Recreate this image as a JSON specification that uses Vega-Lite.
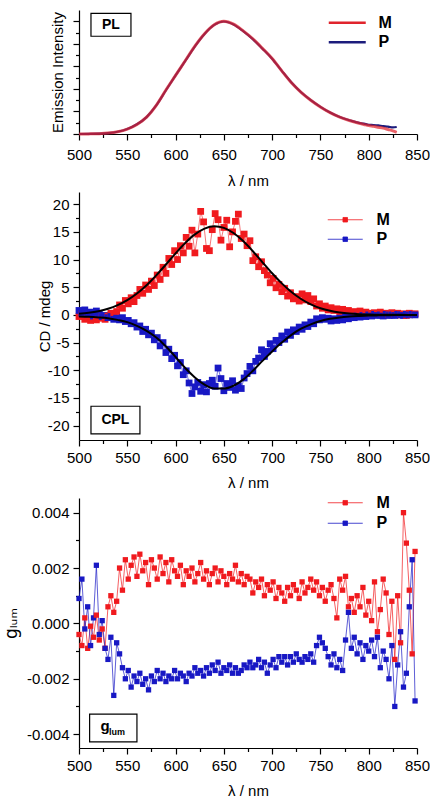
{
  "$schema": "https://vega.github.io/schema/vega-lite/v6.json",
  "padding": {"left": 2, "top": 10, "right": 0, "bottom": 0},
  "bounds": "flush",
  "spacing": 58,
  "datasets": {
    "pl": [
      {"nm": 500, "M": 0.000, "P": 0.000},
      {"nm": 510, "M": 0.001, "P": 0.001},
      {"nm": 520, "M": 0.003, "P": 0.003},
      {"nm": 530, "M": 0.008, "P": 0.008},
      {"nm": 540, "M": 0.020, "P": 0.020},
      {"nm": 550, "M": 0.044, "P": 0.044},
      {"nm": 560, "M": 0.085, "P": 0.086},
      {"nm": 570, "M": 0.150, "P": 0.150},
      {"nm": 580, "M": 0.255, "P": 0.253},
      {"nm": 590, "M": 0.390, "P": 0.388},
      {"nm": 600, "M": 0.520, "P": 0.520},
      {"nm": 610, "M": 0.650, "P": 0.648},
      {"nm": 620, "M": 0.780, "P": 0.778},
      {"nm": 630, "M": 0.890, "P": 0.888},
      {"nm": 640, "M": 0.970, "P": 0.968},
      {"nm": 650, "M": 1.000, "P": 0.998},
      {"nm": 660, "M": 0.975, "P": 0.972},
      {"nm": 670, "M": 0.915, "P": 0.913},
      {"nm": 680, "M": 0.845, "P": 0.842},
      {"nm": 690, "M": 0.760, "P": 0.757},
      {"nm": 700, "M": 0.670, "P": 0.668},
      {"nm": 710, "M": 0.560, "P": 0.560},
      {"nm": 720, "M": 0.455, "P": 0.457},
      {"nm": 730, "M": 0.370, "P": 0.370},
      {"nm": 740, "M": 0.300, "P": 0.300},
      {"nm": 750, "M": 0.240, "P": 0.241},
      {"nm": 760, "M": 0.190, "P": 0.190},
      {"nm": 770, "M": 0.150, "P": 0.150},
      {"nm": 780, "M": 0.120, "P": 0.122},
      {"nm": 790, "M": 0.095, "P": 0.098},
      {"nm": 795, "M": 0.085, "P": 0.092},
      {"nm": 800, "M": 0.075, "P": 0.082},
      {"nm": 805, "M": 0.068, "P": 0.080},
      {"nm": 810, "M": 0.060, "P": 0.076},
      {"nm": 815, "M": 0.052, "P": 0.070},
      {"nm": 820, "M": 0.040, "P": 0.066},
      {"nm": 825, "M": 0.028, "P": 0.058},
      {"nm": 829, "M": 0.015, "P": 0.062}
    ],
    "cd": [
      {"nm": 500, "M": -0.3, "P": 0.8}, {"nm": 503, "M": 0.2, "P": 0.3}, {"nm": 506, "M": -0.8, "P": 0.9},
      {"nm": 509, "M": -0.5, "P": 0.2}, {"nm": 512, "M": -1.0, "P": 0.5}, {"nm": 515, "M": -0.4, "P": -0.2},
      {"nm": 518, "M": -0.9, "P": 0.7}, {"nm": 521, "M": -0.6, "P": 0.1}, {"nm": 524, "M": -0.3, "P": -0.3},
      {"nm": 527, "M": -0.8, "P": -0.1}, {"nm": 530, "M": -0.2, "P": -0.5}, {"nm": 533, "M": 0.3, "P": -0.3},
      {"nm": 536, "M": -0.1, "P": -0.8}, {"nm": 539, "M": 0.6, "P": -0.6}, {"nm": 542, "M": 1.8, "P": -0.9},
      {"nm": 545, "M": 1.2, "P": -0.5}, {"nm": 548, "M": 2.6, "P": -1.2}, {"nm": 551, "M": 2.0, "P": -1.0},
      {"nm": 554, "M": 3.1, "P": -1.6}, {"nm": 557, "M": 2.4, "P": -1.4}, {"nm": 560, "M": 3.5, "P": -2.2},
      {"nm": 563, "M": 4.6, "P": -2.0}, {"nm": 566, "M": 3.9, "P": -3.0}, {"nm": 569, "M": 5.4, "P": -2.6},
      {"nm": 572, "M": 4.6, "P": -3.6}, {"nm": 575, "M": 6.1, "P": -3.3}, {"nm": 578, "M": 5.3, "P": -4.5},
      {"nm": 581, "M": 7.2, "P": -4.1}, {"nm": 584, "M": 6.4, "P": -5.6}, {"nm": 587, "M": 8.6, "P": -5.0},
      {"nm": 590, "M": 7.5, "P": -6.8}, {"nm": 593, "M": 10.2, "P": -6.2}, {"nm": 596, "M": 9.1, "P": -7.9},
      {"nm": 599, "M": 11.6, "P": -7.3}, {"nm": 602, "M": 10.0, "P": -9.2}, {"nm": 605, "M": 12.5, "P": -8.6},
      {"nm": 608, "M": 11.2, "P": -10.8}, {"nm": 611, "M": 14.0, "P": -10.1}, {"nm": 614, "M": 12.4, "P": -12.3},
      {"nm": 617, "M": 15.3, "P": -14.2}, {"nm": 620, "M": 11.2, "P": -13.0}, {"nm": 623, "M": 14.6, "P": -12.2},
      {"nm": 626, "M": 18.7, "P": -13.8}, {"nm": 629, "M": 16.8, "P": -12.6}, {"nm": 632, "M": 12.0, "P": -13.9},
      {"nm": 635, "M": 11.6, "P": -12.4}, {"nm": 638, "M": 15.4, "P": -11.8}, {"nm": 641, "M": 18.3, "P": -12.9},
      {"nm": 644, "M": 17.2, "P": -9.6}, {"nm": 647, "M": 13.5, "P": -11.5}, {"nm": 650, "M": 15.8, "P": -13.7},
      {"nm": 653, "M": 17.1, "P": -12.4}, {"nm": 656, "M": 12.3, "P": -13.1}, {"nm": 659, "M": 15.0, "P": -11.9},
      {"nm": 662, "M": 16.9, "P": -13.6}, {"nm": 665, "M": 18.2, "P": -12.8}, {"nm": 668, "M": 13.8, "P": -13.3},
      {"nm": 671, "M": 14.6, "P": -11.4}, {"nm": 674, "M": 12.5, "P": -10.6}, {"nm": 677, "M": 13.4, "P": -9.3},
      {"nm": 680, "M": 9.8, "P": -10.1}, {"nm": 683, "M": 10.5, "P": -8.4}, {"nm": 686, "M": 8.7, "P": -7.8},
      {"nm": 689, "M": 9.6, "P": -6.3}, {"nm": 692, "M": 8.0, "P": -7.5}, {"nm": 695, "M": 7.2, "P": -6.6},
      {"nm": 698, "M": 5.8, "P": -5.2}, {"nm": 701, "M": 6.6, "P": -6.1}, {"nm": 704, "M": 4.9, "P": -4.6},
      {"nm": 707, "M": 5.5, "P": -5.0}, {"nm": 710, "M": 4.2, "P": -3.8}, {"nm": 713, "M": 4.8, "P": -4.4},
      {"nm": 716, "M": 3.4, "P": -3.1}, {"nm": 719, "M": 4.0, "P": -3.7}, {"nm": 722, "M": 2.9, "P": -2.7},
      {"nm": 725, "M": 3.3, "P": -3.0}, {"nm": 728, "M": 2.5, "P": -2.2}, {"nm": 731, "M": 3.8, "P": -2.6},
      {"nm": 734, "M": 2.7, "P": -1.8}, {"nm": 737, "M": 3.5, "P": -2.1}, {"nm": 740, "M": 2.4, "P": -1.3},
      {"nm": 743, "M": 2.9, "P": -1.6}, {"nm": 746, "M": 1.6, "P": -0.7}, {"nm": 749, "M": 2.0, "P": -0.9},
      {"nm": 752, "M": 1.2, "P": -0.5}, {"nm": 755, "M": 1.6, "P": -0.8}, {"nm": 758, "M": 0.9, "P": -0.6},
      {"nm": 761, "M": 1.3, "P": -1.1}, {"nm": 764, "M": 0.8, "P": -0.7}, {"nm": 767, "M": 1.1, "P": -1.0},
      {"nm": 770, "M": 0.6, "P": -0.6}, {"nm": 773, "M": 1.0, "P": -0.9}, {"nm": 776, "M": 0.5, "P": -0.4},
      {"nm": 779, "M": 0.8, "P": -0.7}, {"nm": 782, "M": 0.3, "P": -0.3}, {"nm": 785, "M": 0.6, "P": -0.5},
      {"nm": 788, "M": 0.4, "P": -0.2}, {"nm": 791, "M": 0.7, "P": -0.4}, {"nm": 794, "M": 0.2, "P": -0.1},
      {"nm": 797, "M": 0.5, "P": -0.3}, {"nm": 800, "M": 0.3, "P": 0.0}, {"nm": 803, "M": 0.1, "P": -0.2},
      {"nm": 806, "M": 0.4, "P": 0.1}, {"nm": 809, "M": 0.2, "P": -0.1}, {"nm": 812, "M": 0.5, "P": 0.0},
      {"nm": 815, "M": 0.1, "P": -0.2}, {"nm": 818, "M": 0.3, "P": 0.1}, {"nm": 821, "M": 0.0, "P": -0.1},
      {"nm": 824, "M": 0.4, "P": 0.0}, {"nm": 827, "M": 0.1, "P": -0.1}, {"nm": 830, "M": 0.3, "P": 0.1},
      {"nm": 833, "M": 0.0, "P": 0.0}, {"nm": 836, "M": 0.2, "P": -0.1}, {"nm": 839, "M": -0.1, "P": 0.1},
      {"nm": 842, "M": 0.3, "P": 0.0}, {"nm": 845, "M": 0.1, "P": 0.1}, {"nm": 848, "M": 0.2, "P": 0.0}
    ],
    "cdfit": [
      {"nm": 500, "M": 0.21, "P": -0.30}, {"nm": 510, "M": 0.39, "P": -0.35}, {"nm": 520, "M": 0.67, "P": -0.45},
      {"nm": 530, "M": 1.10, "P": -0.60}, {"nm": 540, "M": 1.75, "P": -0.90}, {"nm": 550, "M": 2.65, "P": -1.30},
      {"nm": 560, "M": 3.85, "P": -2.00}, {"nm": 570, "M": 5.36, "P": -2.90}, {"nm": 580, "M": 7.14, "P": -4.10},
      {"nm": 590, "M": 9.10, "P": -5.70}, {"nm": 600, "M": 11.11, "P": -7.60}, {"nm": 610, "M": 12.99, "P": -9.60},
      {"nm": 620, "M": 14.54, "P": -11.30}, {"nm": 630, "M": 15.58, "P": -12.60}, {"nm": 640, "M": 16.00, "P": -13.30},
      {"nm": 650, "M": 15.72, "P": -13.30}, {"nm": 660, "M": 14.79, "P": -12.80}, {"nm": 670, "M": 13.33, "P": -11.70},
      {"nm": 680, "M": 11.50, "P": -10.10}, {"nm": 690, "M": 9.50, "P": -8.30}, {"nm": 700, "M": 7.52, "P": -6.60},
      {"nm": 710, "M": 5.69, "P": -5.00}, {"nm": 720, "M": 4.13, "P": -3.60}, {"nm": 730, "M": 2.87, "P": -2.50},
      {"nm": 740, "M": 1.91, "P": -1.70}, {"nm": 750, "M": 1.21, "P": -1.10}, {"nm": 760, "M": 0.74, "P": -0.70},
      {"nm": 770, "M": 0.43, "P": -0.45}, {"nm": 780, "M": 0.24, "P": -0.30}, {"nm": 790, "M": 0.13, "P": -0.20},
      {"nm": 800, "M": 0.07, "P": -0.12}, {"nm": 810, "M": 0.03, "P": -0.08}, {"nm": 820, "M": 0.02, "P": -0.05},
      {"nm": 830, "M": 0.01, "P": -0.03}, {"nm": 840, "M": 0.00, "P": -0.02}, {"nm": 850, "M": 0.00, "P": 0.00}
    ],
    "glum": [
      {"nm": 500, "M": -0.0004, "P": 0.0009}, {"nm": 503, "M": -0.0008, "P": 0.0016}, {"nm": 506, "M": 0.0002, "P": -0.0002},
      {"nm": 509, "M": -0.0009, "P": 0.0006}, {"nm": 512, "M": -0.0001, "P": -0.0008}, {"nm": 515, "M": -0.0005, "P": 0.0002},
      {"nm": 518, "M": 0.0003, "P": 0.0021}, {"nm": 521, "M": -0.0006, "P": -0.0004}, {"nm": 524, "M": -0.0002, "P": 0.0001},
      {"nm": 527, "M": -0.0009, "P": -0.0009}, {"nm": 530, "M": 0.0006, "P": -0.0013}, {"nm": 533, "M": 0.0010, "P": -0.0005},
      {"nm": 536, "M": 0.0004, "P": -0.0026}, {"nm": 539, "M": 0.0008, "P": -0.0007}, {"nm": 542, "M": 0.0020, "P": -0.0011},
      {"nm": 545, "M": 0.0012, "P": -0.0016}, {"nm": 548, "M": 0.0023, "P": -0.0020}, {"nm": 551, "M": 0.0016, "P": -0.0017},
      {"nm": 554, "M": 0.0021, "P": -0.0023}, {"nm": 557, "M": 0.0024, "P": -0.0019}, {"nm": 560, "M": 0.0017, "P": -0.0021},
      {"nm": 563, "M": 0.0025, "P": -0.0018}, {"nm": 566, "M": 0.0019, "P": -0.0022}, {"nm": 569, "M": 0.0022, "P": -0.0020},
      {"nm": 572, "M": 0.0014, "P": -0.0024}, {"nm": 575, "M": 0.0023, "P": -0.0019}, {"nm": 578, "M": 0.0020, "P": -0.0021},
      {"nm": 581, "M": 0.0016, "P": -0.0017}, {"nm": 584, "M": 0.0024, "P": -0.0020}, {"nm": 587, "M": 0.0018, "P": -0.0018},
      {"nm": 590, "M": 0.0022, "P": -0.0021}, {"nm": 593, "M": 0.0015, "P": -0.0019}, {"nm": 596, "M": 0.0023, "P": -0.0020},
      {"nm": 599, "M": 0.0019, "P": -0.0017}, {"nm": 602, "M": 0.0017, "P": -0.0020}, {"nm": 605, "M": 0.0021, "P": -0.0018},
      {"nm": 608, "M": 0.0014, "P": -0.0019}, {"nm": 611, "M": 0.0019, "P": -0.0021}, {"nm": 614, "M": 0.0017, "P": -0.0018},
      {"nm": 617, "M": 0.0020, "P": -0.0019}, {"nm": 620, "M": 0.0015, "P": -0.0016}, {"nm": 623, "M": 0.0018, "P": -0.0018},
      {"nm": 626, "M": 0.0022, "P": -0.0017}, {"nm": 629, "M": 0.0016, "P": -0.0019}, {"nm": 632, "M": 0.0019, "P": -0.0016},
      {"nm": 635, "M": 0.0014, "P": -0.0018}, {"nm": 638, "M": 0.0018, "P": -0.0015}, {"nm": 641, "M": 0.0020, "P": -0.0017},
      {"nm": 644, "M": 0.0015, "P": -0.0014}, {"nm": 647, "M": 0.0019, "P": -0.0018}, {"nm": 650, "M": 0.0017, "P": -0.0016},
      {"nm": 653, "M": 0.0014, "P": -0.0017}, {"nm": 656, "M": 0.0018, "P": -0.0015}, {"nm": 659, "M": 0.0016, "P": -0.0018},
      {"nm": 662, "M": 0.0021, "P": -0.0016}, {"nm": 665, "M": 0.0015, "P": -0.0018}, {"nm": 668, "M": 0.0018, "P": -0.0017},
      {"nm": 671, "M": 0.0014, "P": -0.0015}, {"nm": 674, "M": 0.0017, "P": -0.0016}, {"nm": 677, "M": 0.0016, "P": -0.0014},
      {"nm": 680, "M": 0.0011, "P": -0.0016}, {"nm": 683, "M": 0.0015, "P": -0.0015}, {"nm": 686, "M": 0.0013, "P": -0.0013},
      {"nm": 689, "M": 0.0016, "P": -0.0016}, {"nm": 692, "M": 0.0010, "P": -0.0014}, {"nm": 695, "M": 0.0014, "P": -0.0018},
      {"nm": 698, "M": 0.0012, "P": -0.0015}, {"nm": 701, "M": 0.0015, "P": -0.0013}, {"nm": 704, "M": 0.0009, "P": -0.0016},
      {"nm": 707, "M": 0.0013, "P": -0.0012}, {"nm": 710, "M": 0.0011, "P": -0.0014}, {"nm": 713, "M": 0.0008, "P": -0.0012},
      {"nm": 716, "M": 0.0013, "P": -0.0015}, {"nm": 719, "M": 0.0010, "P": -0.0012}, {"nm": 722, "M": 0.0014, "P": -0.0014},
      {"nm": 725, "M": 0.0012, "P": -0.0011}, {"nm": 728, "M": 0.0009, "P": -0.0013}, {"nm": 731, "M": 0.0015, "P": -0.0014},
      {"nm": 734, "M": 0.0011, "P": -0.0012}, {"nm": 737, "M": 0.0013, "P": -0.0013}, {"nm": 740, "M": 0.0016, "P": -0.0011},
      {"nm": 743, "M": 0.0012, "P": -0.0014}, {"nm": 746, "M": 0.0015, "P": -0.0008}, {"nm": 749, "M": 0.0010, "P": -0.0005},
      {"nm": 752, "M": 0.0013, "P": -0.0007}, {"nm": 755, "M": 0.0008, "P": -0.0009}, {"nm": 758, "M": 0.0012, "P": -0.0012},
      {"nm": 761, "M": 0.0014, "P": -0.0015}, {"nm": 764, "M": 0.0009, "P": -0.0011}, {"nm": 767, "M": 0.0002, "P": -0.0016},
      {"nm": 770, "M": 0.0016, "P": -0.0013}, {"nm": 773, "M": 0.0012, "P": -0.0017}, {"nm": 776, "M": 0.0017, "P": -0.0006},
      {"nm": 779, "M": 0.0006, "P": 0.0004}, {"nm": 782, "M": 0.0009, "P": -0.0009}, {"nm": 785, "M": 0.0004, "P": -0.0005},
      {"nm": 788, "M": 0.0010, "P": -0.0011}, {"nm": 791, "M": 0.0006, "P": -0.0007}, {"nm": 794, "M": 0.0013, "P": -0.0013},
      {"nm": 797, "M": 0.0003, "P": -0.0008}, {"nm": 800, "M": 0.0008, "P": -0.0010}, {"nm": 803, "M": 0.0001, "P": -0.0006},
      {"nm": 806, "M": 0.0015, "P": -0.0012}, {"nm": 809, "M": -0.0003, "P": -0.0005}, {"nm": 812, "M": 0.0005, "P": -0.0016},
      {"nm": 815, "M": 0.0016, "P": -0.0010}, {"nm": 818, "M": 0.0011, "P": -0.0013}, {"nm": 821, "M": -0.0004, "P": -0.0020},
      {"nm": 824, "M": 0.0008, "P": -0.0008}, {"nm": 827, "M": -0.0013, "P": -0.0030}, {"nm": 830, "M": 0.0010, "P": -0.0015},
      {"nm": 833, "M": -0.0007, "P": -0.0003}, {"nm": 836, "M": 0.0040, "P": -0.0023}, {"nm": 839, "M": 0.0029, "P": -0.0018},
      {"nm": 842, "M": 0.0012, "P": 0.0006}, {"nm": 845, "M": -0.0011, "P": 0.0023}, {"nm": 848, "M": 0.0026, "P": -0.0028}
    ]
  },
  "vconcat": [
    {
      "width": 338,
      "height": 124,
      "layer": [
        {
          "data": {"name": "pl"},
          "transform": [{"fold": ["M", "P"], "as": ["s", "v"]}, {"filter": "datum.s === 'P'"}],
          "mark": {"type": "line", "strokeWidth": 2.2, "interpolate": "monotone"},
          "encoding": {
            "x": {"field": "nm", "type": "quantitative", "scale": {"domain": [500, 850], "nice": false},
              "axis": {"title": "λ / nm", "tickCount": 100, "labelPadding": 7, "titlePadding": 11,
                "values": [500, 525, 550, 575, 600, 625, 650, 675, 700, 725, 750, 775, 800, 825, 850],
                "labelExpr": "datum.value % 50 === 0 ? format(datum.value, 'd') : ''",
                "tickSize": {"condition": {"test": "datum.value % 50 === 0", "value": 6}, "value": 3.5}}},
            "y": {"field": "v", "type": "quantitative", "scale": {"domain": [0, 1.1], "nice": false, "zero": false},
              "axis": {"title": "Emission Intensity", "labels": false, "titleX": -22, "titleBaseline": "middle", "tickCount": 100,
                "values": [0, 0.1, 0.2, 0.3, 0.4, 0.5, 0.6, 0.7, 0.8, 0.9, 1.0],
                "tickSize": {"condition": {"test": "round(datum.value*10) % 2 === 0", "value": 6}, "value": 3.5}}},
            "color": {"field": "s", "type": "nominal",
              "scale": {"domain": ["M", "P"], "range": ["#e0242c", "#1c1c7c"]},
              "legend": {"title": null, "orient": "none", "legendX": 257.25, "legendY": 1.75, "padding": 0,
                "symbolType": "M-2,0H2", "symbolSize": 342, "symbolStrokeWidth": 2.6,
                "labelOffset": 20.25, "rowPadding": 0.5,
                "encode": {"symbols": {"update": {"opacity": {"value": 1}, "strokeOpacity": {"value": 1}}}}}}
          }
        },
        {
          "data": {"name": "pl"},
          "transform": [{"fold": ["M", "P"], "as": ["s", "v"]}, {"filter": "datum.s === 'M'"}],
          "mark": {"type": "line", "strokeWidth": 3, "opacity": 0.72, "interpolate": "monotone"},
          "encoding": {
            "x": {"field": "nm", "type": "quantitative"},
            "y": {"field": "v", "type": "quantitative"},
            "color": {"field": "s", "type": "nominal"}
          }
        },
        {
          "data": {"values": [{}]},
          "mark": {"type": "rect", "fill": "white", "stroke": "black", "strokeWidth": 1.2},
          "encoding": {"x": {"datum": 512.4}, "x2": {"datum": 553.8}, "y": {"datum": 0.867}, "y2": {"datum": 1.07}}
        },
        {
          "data": {"values": [{}]},
          "mark": {"type": "text", "text": "PL", "fontWeight": "bold", "fontSize": 14, "font": "Liberation Sans", "color": "black"},
          "encoding": {"x": {"datum": 533}, "y": {"datum": 0.968}}
        }
      ]
    },
    {
      "width": 338,
      "height": 248,
      "layer": [
        {
          "data": {"name": "cd"},
          "transform": [{"fold": ["M", "P"], "as": ["s", "v"]}],
          "mark": {"type": "line", "strokeWidth": 0.6, "point": {"shape": "square", "size": 46, "filled": true, "opacity": 1}},
          "encoding": {
            "x": {"field": "nm", "type": "quantitative", "scale": {"domain": [500, 850], "nice": false},
              "axis": {"title": "λ / nm", "tickCount": 100, "values": [500, 525, 550, 575, 600, 625, 650, 675, 700, 725, 750, 775, 800, 825, 850],
                "labelExpr": "datum.value % 50 === 0 ? format(datum.value, 'd') : ''",
                "tickSize": {"condition": {"test": "datum.value % 50 === 0", "value": 6}, "value": 3.5}}},
            "y": {"field": "v", "type": "quantitative", "scale": {"domain": [-22.6, 22.2], "nice": false, "zero": false},
              "axis": {"title": "CD / mdeg", "titleX": -35, "titleBaseline": "middle", "tickCount": 100,
                "values": [-20, -17.5, -15, -12.5, -10, -7.5, -5, -2.5, 0, 2.5, 5, 7.5, 10, 12.5, 15, 17.5, 20],
                "labelExpr": "datum.value % 5 === 0 ? replace(format(datum.value, 'd'), '−', '-') : ''",
                "tickSize": {"condition": {"test": "datum.value % 5 === 0", "value": 6}, "value": 3.5}}},
            "color": {"field": "s", "type": "nominal",
              "scale": {"domain": ["M", "P"], "range": ["#f01a1e", "#1818c4"]},
              "legend": {"title": null, "orient": "none", "legendX": 256.75, "legendY": 18.25, "padding": 0,
                "symbolType": "M-2,0H2M-0.26,-0.26H0.26V0.26H-0.26Z", "symbolSize": 306, "symbolStrokeWidth": 0.8,
                "labelOffset": 21.75, "rowPadding": 1.5,
                "encode": {"symbols": {"update": {
                  "opacity": {"value": 1},
                  "fill": [{"test": "datum.value === 'M'", "value": "#c62828"}, {"value": "#2020b0"}],
                  "stroke": [{"test": "datum.value === 'M'", "value": "#c04848"}, {"value": "#4848b8"}]}}}}}
          }
        },
        {
          "data": {"name": "cdfit"},
          "transform": [{"fold": ["M", "P"], "as": ["s", "v"]}],
          "mark": {"type": "line", "color": "black", "strokeWidth": 2, "interpolate": "monotone"},
          "encoding": {
            "x": {"field": "nm", "type": "quantitative"},
            "y": {"field": "v", "type": "quantitative"},
            "detail": {"field": "s", "type": "nominal"}
          }
        },
        {
          "data": {"values": [{}]},
          "mark": {"type": "rect", "fill": "white", "stroke": "black", "strokeWidth": 1.2},
          "encoding": {"x": {"datum": 512.4}, "x2": {"datum": 563.1}, "y": {"datum": -16.5}, "y2": {"datum": -21.5}}
        },
        {
          "data": {"values": [{}]},
          "mark": {"type": "text", "text": "CPL", "fontWeight": "bold", "fontSize": 14, "font": "Liberation Sans", "color": "black"},
          "encoding": {"x": {"datum": 537.7}, "y": {"datum": -19}}
        }
      ]
    },
    {
      "width": 338,
      "height": 250,
      "layer": [
        {
          "data": {"name": "glum"},
          "transform": [{"fold": ["M", "P"], "as": ["s", "v"]}],
          "mark": {"type": "line", "strokeWidth": 0.7, "point": {"shape": "square", "size": 28, "filled": true, "opacity": 1}},
          "encoding": {
            "x": {"field": "nm", "type": "quantitative", "scale": {"domain": [500, 850], "nice": false},
              "axis": {"title": "λ / nm", "tickCount": 100, "values": [500, 525, 550, 575, 600, 625, 650, 675, 700, 725, 750, 775, 800, 825, 850],
                "labelExpr": "datum.value % 50 === 0 ? format(datum.value, 'd') : ''",
                "tickSize": {"condition": {"test": "datum.value % 50 === 0", "value": 6}, "value": 3.5}}},
            "y": {"field": "v", "type": "quantitative", "scale": {"domain": [-0.0045, 0.00453], "nice": false, "zero": false},
              "axis": {"title": "gₗᵤₘ", "titleFont": "DejaVu Sans", "titleFontSize": 17, "titleX": -68, "titleBaseline": "middle",
                "tickCount": 100,
                "values": [-0.004, -0.003, -0.002, -0.001, 0, 0.001, 0.002, 0.003, 0.004],
                "labelExpr": "round(datum.value*1000) % 2 === 0 ? replace(format(datum.value, '.3f'), '−', '-') : ''",
                "tickSize": {"condition": {"test": "round(datum.value*1000) % 2 === 0", "value": 6}, "value": 3.5}}},
            "color": {"field": "s", "type": "nominal",
              "scale": {"domain": ["M", "P"], "range": ["#f01a1e", "#1818c4"]},
              "legend": {"title": null, "orient": "none", "legendX": 256.75, "legendY": -4.75, "padding": 0,
                "symbolType": "M-2,0H2M-0.26,-0.26H0.26V0.26H-0.26Z", "symbolSize": 306, "symbolStrokeWidth": 0.8,
                "labelOffset": 21.75, "rowPadding": 2.5,
                "encode": {"symbols": {"update": {
                  "opacity": {"value": 1},
                  "fill": [{"test": "datum.value === 'M'", "value": "#c62828"}, {"value": "#2020b0"}],
                  "stroke": [{"test": "datum.value === 'M'", "value": "#c04848"}, {"value": "#4848b8"}]}}}}}
          }
        },
        {
          "data": {"values": [{}]},
          "mark": {"type": "rect", "fill": "white", "stroke": "black", "strokeWidth": 1.2},
          "encoding": {"x": {"datum": 511}, "x2": {"datum": 560}, "y": {"datum": -0.00328}, "y2": {"datum": -0.00428}}
        },
        {
          "data": {"values": [{}]},
          "mark": {"type": "text", "text": "g", "fontWeight": "bold", "fontSize": 15, "font": "Liberation Sans", "color": "black"},
          "encoding": {"x": {"datum": 527}, "y": {"datum": -0.00372}}
        },
        {
          "data": {"values": [{}]},
          "mark": {"type": "text", "text": "lum", "fontWeight": "bold", "fontSize": 9, "font": "Liberation Sans", "color": "black", "align": "left"},
          "encoding": {"x": {"datum": 531}, "y": {"datum": -0.00392}}
        }
      ]
    }
  ],
  "resolve": {"scale": {"color": "independent"}, "legend": {"color": "independent"}},
  "config": {
    "view": {"stroke": null},
    "font": "Liberation Sans",
    "axis": {
      "grid": false, "domainColor": "black", "domainWidth": 1.2, "tickColor": "black", "tickWidth": 1.2,
      "labelColor": "black", "titleColor": "black", "labelFont": "Liberation Sans", "titleFont": "Liberation Sans",
      "labelFontSize": 15, "titleFontSize": 15, "titleFontWeight": "normal", "labelPadding": 4,
      "labelFlush": false, "labelOverlap": false, "titlePadding": 10
    },
    "legend": {"labelFont": "Liberation Sans", "labelFontSize": 16, "labelFontWeight": "bold", "labelColor": "black"}
  }
}
